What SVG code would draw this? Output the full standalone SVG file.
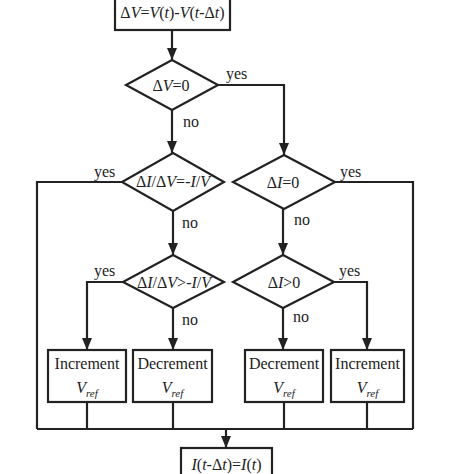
<svg xmlns="http://www.w3.org/2000/svg" width="474" height="474" viewBox="0 0 474 474">
<style>
.sh{fill:#fff;stroke:#222;stroke-width:2.2}
.ln{fill:none;stroke:#222;stroke-width:2.2}
text{font-family:"Liberation Serif","Times New Roman",serif;font-size:16px;fill:#222}
.c{text-anchor:middle}
.i{font-style:italic}
.lb{font-size:16px}
.sub{font-size:11px;font-style:italic}
</style>
<defs>
<marker id="ah" viewBox="0 0 12 10" refX="12" refY="5" markerWidth="12" markerHeight="11" markerUnits="userSpaceOnUse" orient="auto">
<path d="M0,0 L12,5 L0,10 z" fill="#222"/>
</marker>
</defs>
<rect width="474" height="474" fill="#fff"/>
<g id="connectors">
<path class="ln" d="M172,30 V60" marker-end="url(#ah)"/>
<path class="ln" d="M172,110 V153" marker-end="url(#ah)"/>
<path class="ln" d="M218,85 H284 V155" marker-end="url(#ah)"/>
<path class="ln" d="M122,182 H37 V429"/>
<path class="ln" d="M173,211 V255" marker-end="url(#ah)"/>
<path class="ln" d="M335,182 H413 V429"/>
<path class="ln" d="M283,209 V255" marker-end="url(#ah)"/>
<path class="ln" d="M123,282 H87 V350" marker-end="url(#ah)"/>
<path class="ln" d="M173,308 V350" marker-end="url(#ah)"/>
<path class="ln" d="M334,282 H367 V350" marker-end="url(#ah)"/>
<path class="ln" d="M283,308 V350" marker-end="url(#ah)"/>
<path class="ln" d="M87,402 V429 M173,402 V429 M284,402 V429 M367,402 V429"/>
<path class="ln" d="M37,429 H413"/>
<path class="ln" d="M226,429 V448" marker-end="url(#ah)"/>
<text class="lb" x="226" y="79">yes</text>
<text class="lb" x="183" y="127">no</text>
<text class="lb" x="94" y="177">yes</text>
<text class="lb" x="182" y="228">no</text>
<text class="lb" x="340" y="177">yes</text>
<text class="lb" x="294" y="225">no</text>
<text class="lb" x="94" y="276">yes</text>
<text class="lb" x="182" y="325">no</text>
<text class="lb" x="339" y="276">yes</text>
<text class="lb" x="293" y="322">no</text>
</g>
<g id="start">
<rect class="sh" x="115" y="-3" width="115" height="33"/>
<text class="c" x="172.5" y="18">Δ<tspan class="i">V</tspan>=<tspan class="i">V</tspan>(<tspan class="i">t</tspan>)-<tspan class="i">V</tspan>(<tspan class="i">t</tspan>-Δ<tspan class="i">t</tspan>)</text>
</g>
<g id="d1">
<path class="sh" d="M172,60 L218,85 L172,110 L126,85 z"/>
<text class="c" x="171" y="91">Δ<tspan class="i">V</tspan>=0</text>
</g>
<g id="d2">
<path class="sh" d="M173,153 L224,182 L173,211 L122,182 z"/>
<text class="c" x="173" y="187">Δ<tspan class="i">I</tspan>/Δ<tspan class="i">V</tspan>=-<tspan class="i">I</tspan>/<tspan class="i">V</tspan></text>
</g>
<g id="d3">
<path class="sh" d="M284,155 L335,182 L284,209 L233,182 z"/>
<text class="c" x="283" y="188">Δ<tspan class="i">I</tspan>=0</text>
</g>
<g id="d4">
<path class="sh" d="M173,255 L224,282 L173,308 L123,282 z"/>
<text class="c" x="174" y="288">Δ<tspan class="i">I</tspan>/Δ<tspan class="i">V</tspan>&gt;-<tspan class="i">I</tspan>/<tspan class="i">V</tspan></text>
</g>
<g id="d5">
<path class="sh" d="M283,255 L334,282 L283,308 L233,282 z"/>
<text class="c" x="284" y="288">Δ<tspan class="i">I</tspan>&gt;0</text>
</g>
<g id="inc1">
<rect class="sh" x="48" y="350" width="78" height="52"/>
<text class="c" x="87" y="369">Increment</text>
<text class="c" x="87" y="393"><tspan class="i">V</tspan><tspan class="sub" dy="4">ref</tspan></text>
</g>
<g id="dec1">
<rect class="sh" x="133" y="350" width="79" height="52"/>
<text class="c" x="172.5" y="369">Decrement</text>
<text class="c" x="172.5" y="393"><tspan class="i">V</tspan><tspan class="sub" dy="4">ref</tspan></text>
</g>
<g id="dec2">
<rect class="sh" x="245" y="350" width="78" height="52"/>
<text class="c" x="284" y="369">Decrement</text>
<text class="c" x="284" y="393"><tspan class="i">V</tspan><tspan class="sub" dy="4">ref</tspan></text>
</g>
<g id="inc2">
<rect class="sh" x="331" y="350" width="73" height="52"/>
<text class="c" x="367.5" y="369">Increment</text>
<text class="c" x="367.5" y="393"><tspan class="i">V</tspan><tspan class="sub" dy="4">ref</tspan></text>
</g>
<g id="end">
<rect class="sh" x="181" y="448" width="91" height="30"/>
<text class="c" x="226.5" y="470"><tspan class="i">I</tspan>(<tspan class="i">t</tspan>-Δ<tspan class="i">t</tspan>)=<tspan class="i">I</tspan>(<tspan class="i">t</tspan>)</text>
</g>
</svg>
